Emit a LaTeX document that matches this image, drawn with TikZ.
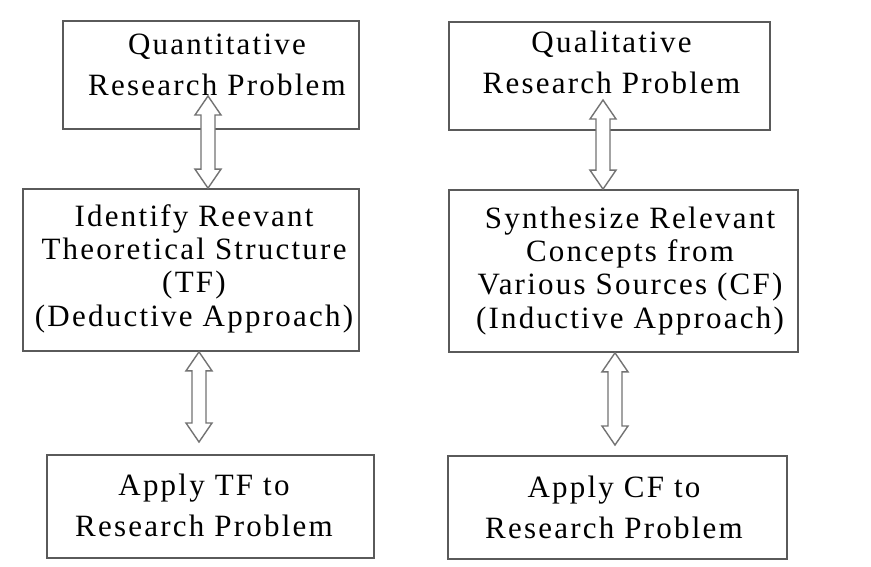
\documentclass[tikz,border=0pt]{standalone}
\usepackage{fontspec}
\setmainfont{Liberation Serif}[LetterSpace=7.2]
\usetikzlibrary{calc}
\definecolor{boxgray}{RGB}{90,90,90}
\definecolor{arrgray}{RGB}{115,115,115}
\newcommand\dblarr[2]{%
  \draw[arrowline] (#1) -- ($(#1)+(13,19)$) -- ($(#1)+(7,19)$)
    -- ($(#2)+(7,-19)$) -- ($(#2)+(13,-19)$) -- (#2)
    -- ($(#2)+(-13,-19)$) -- ($(#2)+(-7,-19)$)
    -- ($(#1)+(-7,19)$) -- ($(#1)+(-13,19)$) -- cycle;}
\begin{document}
\begin{tikzpicture}[x=1pt,y=-1pt,
  rbox/.style={draw=boxgray,line width=1.7pt,rectangle,inner sep=0pt,fill=none},
  txt/.style={inner sep=0pt,align=center,text=black},
  wide/.style={font={\fontsize{31}{40.5}\selectfont}},
  tight/.style={font={\fontsize{31}{33.3}\selectfont}},
  arrowline/.style={draw=arrgray,line width=1.4pt,fill=white,line join=miter}]
\useasboundingbox (0,0) rectangle (871,566);
\fill[white] (0,0) rectangle (871,566);
% boxes
\node[rbox,minimum width=296pt,minimum height=108pt] (b1) at (211,75) {};
\node[rbox,minimum width=336pt,minimum height=162pt] (b2) at (191,270) {};
\node[rbox,minimum width=327pt,minimum height=103pt] (b3) at (210.5,506.5) {};
\node[rbox,minimum width=321pt,minimum height=108pt] (b4) at (609.5,76) {};
\node[rbox,minimum width=349pt,minimum height=162pt] (b5) at (623.5,271) {};
\node[rbox,minimum width=339pt,minimum height=103pt] (b6) at (617.5,507.5) {};
% texts
\node[txt,wide] (t1) at (217,65) {Quantitative\\Research Problem};
\node[txt,tight] (t2) at (194,268.7) {Identify Reevant\\Theoretical Structure\\(TF)\\(Deductive Approach)};
\node[txt,wide] (t3) at (204,505.5) {Apply TF to\\Research Problem};
\node[txt,wide] (t4) at (611.5,62.5) {Qualitative\\Research Problem};
\node[txt,tight] (t5) at (630,270.7) {Synthesize Relevant\\Concepts from\\Various Sources (CF)\\(Inductive Approach)};
\node[txt,wide] (t6) at (614,507.5) {Apply CF to\\Research Problem};
% arrow end points
\coordinate (x1) at (208,0);
\coordinate (x2) at (199,0);
\coordinate (x3) at (603,0);
\coordinate (x4) at (615,0);
\coordinate (a1t) at (208,96);
\coordinate (a1b) at (x1 |- b2.north);
\coordinate (a2t) at (x2 |- b2.south);
\coordinate (a2b) at (199,442);
\coordinate (a3t) at (603,100);
\coordinate (a3b) at (x3 |- b5.north);
\coordinate (a4t) at (x4 |- b5.south);
\coordinate (a4b) at (615,445);
\dblarr{a1t}{a1b}
\dblarr{a2t}{a2b}
\dblarr{a3t}{a3b}
\dblarr{a4t}{a4b}
\end{tikzpicture}
\end{document}
